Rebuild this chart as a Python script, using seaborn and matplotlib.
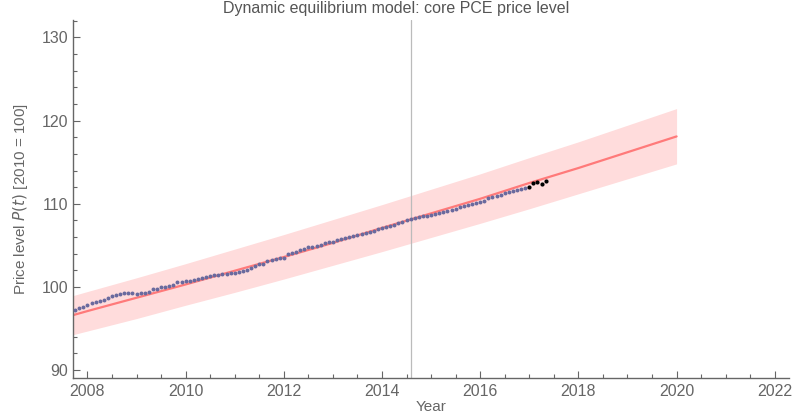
import numpy as np
import pandas as pd
import matplotlib
matplotlib.use("Agg")
import matplotlib.pyplot as plt
from matplotlib.ticker import MultipleLocator
import seaborn as sns

# Monthly core PCE price level, starting Oct 2007 (2010 = 100)
start_year = 2007.75
pce_values = [
    97.26, 97.46, 97.6, 97.86, 98.1, 98.2, 98.3, 98.45, 98.66, 98.9,
    99.06, 99.2, 99.3, 99.3, 99.3, 99.2, 99.3, 99.3, 99.4, 99.8,
    99.8, 100.0, 100.0, 100.1, 100.2, 100.56, 100.6,
    100.68, 100.75, 100.85, 100.94, 101.06, 101.18, 101.26, 101.38, 101.46, 101.5,
    101.58, 101.66, 101.7, 101.78, 101.9, 102.0, 102.26, 102.5, 102.7, 102.8,
    103.06, 103.2, 103.3, 103.46, 103.5, 103.94, 104.06, 104.2,
    104.45, 104.58, 104.78, 104.86, 104.98, 105.1, 105.26, 105.38, 105.46, 105.7,
    105.82, 105.9, 105.98, 106.1, 106.26, 106.38, 106.5, 106.58, 106.74, 106.94,
    107.1, 107.22, 107.34, 107.5, 107.66, 107.86, 108.02, 108.18, 108.3, 108.42,
    108.5, 108.58, 108.66, 108.78, 108.9, 109.02, 109.18, 109.3, 109.42, 109.58,
    109.7, 109.82, 109.98, 110.1, 110.22, 110.34, 110.64, 110.82,
    110.98, 111.1, 111.26, 111.42, 111.54, 111.66, 111.78, 111.9,
]
# Newest data after the model was fixed (Jan-May 2017)
new_start_year = 2017.0
new_values = [112.06, 112.54, 112.66, 112.38, 112.7]

# Model path and error band
model_years = [2007.7, 2008, 2009, 2010, 2011, 2012, 2013, 2014,
               2015, 2016, 2017, 2018, 2019, 2020]
model_values = [96.6, 97.1, 98.7, 100.3, 101.95, 103.6, 105.3, 107.1,
                108.85, 110.6, 112.5, 114.3, 116.2, 118.1]
band_low = [94.25, 94.7, 96.2, 97.8, 99.35, 100.95, 102.6, 104.25,
            105.95, 107.65, 109.4, 111.2, 113.0, 114.8]
band_high = [98.95, 99.45, 101.1, 102.8, 104.55, 106.3, 108.1, 109.9,
             111.75, 113.6, 115.55, 117.45, 119.45, 121.45]
marker_year = 2014.6

pce = pd.DataFrame({"year": start_year + np.arange(len(pce_values)) / 12,
                    "level": pce_values})
new = pd.DataFrame({"year": new_start_year + np.arange(len(new_values)) / 12,
                    "level": new_values})
model = pd.DataFrame({"year": model_years, "level": model_values,
                      "lo": band_low, "hi": band_high})

sns.set_style("ticks")
plt.rcParams["font.family"] = ["Liberation Sans", "DejaVu Sans"]
grey = "#666666"

fig = plt.figure(figsize=(7.92, 4.15), dpi=100)
ax = fig.add_axes([73 / 792, 37 / 415, 716 / 792, 358 / 415])

ax.fill_between(model["year"], model["lo"], model["hi"],
                color="#ffdcdc", linewidth=0, zorder=1)
sns.lineplot(data=model, x="year", y="level", ax=ax, color="#ff7a7a",
             linewidth=1.6, zorder=2)
ax.axvline(marker_year, color="#bbbbbb", linewidth=0.9, zorder=1.5)
sns.scatterplot(data=pce, x="year", y="level", ax=ax, color="#6a6a9e",
                s=8, linewidth=0, zorder=3)
sns.scatterplot(data=new, x="year", y="level", ax=ax, color="black",
                s=9, linewidth=0, zorder=4)

ax.set_xlim(2007.705, 2022.29)
ax.set_ylim(89.05, 132.1)
ax.set_xticks(range(2008, 2023, 2))
ax.set_yticks(range(90, 131, 10))
ax.xaxis.set_minor_locator(MultipleLocator(0.5))
ax.yaxis.set_minor_locator(MultipleLocator(2))
ax.tick_params(which="both", direction="in", color=grey, labelcolor=grey,
               labelsize=11.5, width=0.8)
ax.tick_params(which="major", length=5)
ax.tick_params(which="minor", length=3)
ax.tick_params(axis="x", pad=4)
for side in ["top", "right"]:
    ax.spines[side].set_visible(False)
for side in ["left", "bottom"]:
    ax.spines[side].set_color(grey)
    ax.spines[side].set_linewidth(1.0)

ax.set_xlabel("Year", color=grey, fontsize=11, labelpad=1)
ax.set_ylabel(r"Price level $P(t)$ [2010 = 100]", color=grey, fontsize=11,
              labelpad=8)
fig.text(0.5, 1 - 9 / 415, "Dynamic equilibrium model: core PCE price level",
         ha="center", va="center", color="#555555", fontsize=11.5)

fig.savefig("out.png", dpi=100)
